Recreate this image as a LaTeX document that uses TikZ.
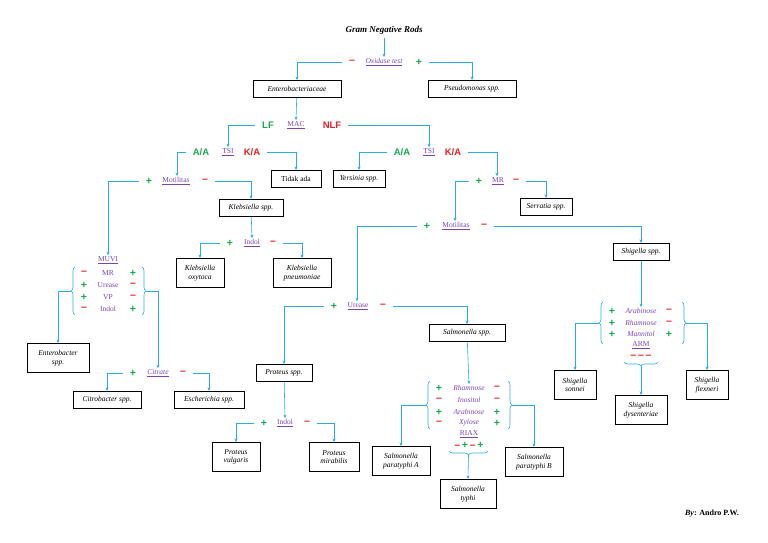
\documentclass[tikz,border=0pt]{standalone}
\usepackage{fontspec}
\setmainfont{Liberation Serif}
\setsansfont{Liberation Sans}
\usetikzlibrary{arrows.meta,decorations.pathreplacing}
\definecolor{cyanc}{RGB}{40,175,225}
\definecolor{purp}{RGB}{120,70,175}
\definecolor{grn}{RGB}{20,170,80}
\definecolor{rd}{RGB}{235,30,35}
\newcommand\fsz{\fontsize{7.5}{8.5}\selectfont}
\newcommand\ul[1]{\underline{#1}}
\begin{document}
\begin{tikzpicture}[x=1pt,y=-1pt,
 cy/.style={draw=cyanc, line width=0.6pt},
 arr/.style={cy, -{Stealth[length=3.6pt,width=3pt]}},
 br/.style={cy, decorate, decoration={brace,amplitude=4pt}},
 box/.style={draw, line width=0.9pt, fill=white, align=center, font=\fsz\itshape, inner sep=2pt, minimum height=17pt},
 box2/.style={box, minimum height=29pt},
 lab/.style={text=purp, font=\fsz, inner sep=1pt},
 ilab/.style={text=purp, font=\fsz\itshape, inner sep=1pt},
 pl/.style={text=grn, font=\fontsize{10.5}{10}\sffamily\bfseries, inner sep=1pt},
 mi/.style={text=rd, font=\fontsize{10.5}{10}\sffamily\bfseries, inner sep=1pt},
 big/.style={font=\fontsize{9.5}{10}\sffamily\bfseries, inner sep=1pt},
]
\useasboundingbox (0,0) rectangle (768,543);
% title
\node[font=\fontsize{9}{10}\selectfont\bfseries\itshape] (title) at (384,30) {Gram Negative Rods};
\node[mi] (oxm) at (352,62) {--};
\node[ilab] (ox) at (384,62) {\ul{Oxidase test}};
\node[pl] (oxp) at (419,62) {+};
\draw[arr] (title) -- (ox.north);
\node[box, minimum width=88pt] (ent) at (297,89) {Enterobacteriaceae};
\node[box, minimum width=88pt] (pse) at (472,89) {Pseudomonas spp.};
\draw[arr] ([xshift=-6pt]oxm.west) -| (ent.north);
\draw[arr] ([xshift=6pt]oxp.east) -| (pse.north);
% MAC
\node[big,text=grn] (lf) at (268,125) {LF};
\node[lab] (mac) at (296,125) {\ul{MAC}};
\node[big,text=rd] (nlf) at (332,125) {NLF};
\draw[arr] (ent) -- (mac.north);
% TSI left
\node[big,text=grn] (aa1) at (201,152) {A/A};
\node[lab] (tsi1) at (228,152) {\ul{TSI}};
\node[big,text=rd] (ka1) at (252,152) {K/A};
% TSI right
\node[big,text=grn] (aa2) at (402,152) {A/A};
\node[lab] (tsi2) at (429,152) {\ul{TSI}};
\node[big,text=rd] (ka2) at (453,152) {K/A};
\draw[arr] ([xshift=-6pt]lf.west) -| (tsi1.north);
\draw[arr] ([xshift=6pt]nlf.east) -| (tsi2.north);
\node[box, minimum width=50pt, font=\fsz] (tid) at (296,179) {Tidak ada};
\node[box, minimum width=52pt] (yer) at (359,179) {Yersinia spp.};
% Motilitas 1
\node[pl] (m1p) at (149,181) {+};
\node[lab] (mot1) at (176,181) {\ul{Motilitas}};
\node[mi] (m1m) at (205,181) {--};
\draw[arr] ([xshift=-6pt]aa1.west) -| (mot1.north -| 177,0);
\draw[arr] ([xshift=6pt]ka1.east) -| (tid.north);
% MR
\node[pl] (mrp) at (479,181) {+};
\node[lab] (mr) at (498,181) {\ul{MR}};
\node[mi] (mrm) at (516,181) {--};
\draw[arr] ([xshift=-6pt]aa2.west) -| (yer.north);
\draw[arr] ([xshift=6pt]ka2.east) -| (mr.north -| 497,0);
\node[box, minimum width=52pt] (ser) at (546,207) {Serratia spp.};
\draw[arr] ([xshift=6pt]mrm.east) -| (ser.north);
% Klebsiella
\node[box, minimum width=64pt] (kle) at (251,208) {Klebsiella spp.};
\draw[arr] ([xshift=6pt]m1m.east) -| (kle.north);
\node[pl] (k1p) at (230,243) {+};
\node[lab] (ind1) at (252,243) {\ul{Indol}};
\node[mi] (k1m) at (273,243) {--};
\draw[arr] (kle) -- (ind1.north);
\node[box2, minimum width=48pt] (kox) at (200,273) {Klebsiella\\oxytoca};
\node[box2, minimum width=58pt] (kpn) at (302,273) {Klebsiella\\pneumoniae};
\draw[arr] ([xshift=-6pt]k1p.west) -| (kox.north);
\draw[arr] ([xshift=6pt]k1m.east) -| (kpn.north);
% MUVI
\node[lab] (muvi) at (108,260) {\ul{MUVI}};
\draw[arr] ([xshift=-6pt]m1p.west) -| (muvi.north);
\node[lab] (mua) at (108,273) {MR};
\node[lab] (mub) at (108,285) {Urease};
\node[lab] (muc) at (108,297) {VP};
\node[lab] (mud) at (108,309) {Indol};
\node[mi] at (84,273) {--}; \node[pl] at (133,273) {+};
\node[pl] at (84,285) {+}; \node[mi] at (133,285) {--};
\node[pl] at (84,297) {+}; \node[mi] at (133,297) {--};
\node[mi] at (84,309) {--}; \node[pl] at (133,309) {+};
\draw[br] (75,315) -- (75,267);
\draw[br] (142,267) -- (142,315);
\coordinate (mubl) at (71,291);
\coordinate (mubr) at (146,291);
\node[box2, minimum width=62pt] (entb) at (58,358) {Enterobacter\\spp.};
\draw[arr] (mubl) -| (entb.north);
% Citrate
\node[pl] (cp) at (133,373) {+};
\node[ilab] (cit) at (158,373) {\ul{Citrate}};
\node[mi] (cm) at (183,373) {--};
\draw[arr] (mubr) -| (cit.north);
\node[box, minimum width=68pt] (cib) at (107,400) {Citrobacter spp.};
\node[box, minimum width=70pt] (esc) at (209,400) {Escherichia spp.};
\draw[arr] ([xshift=-6pt]cp.west) -| (cib.north);
\draw[arr] ([xshift=6pt]cm.east) -| (esc.north);
% Motilitas 2
\node[pl] (m2p) at (427,226) {+};
\node[lab] (mot2) at (456,226) {\ul{Motilitas}};
\node[mi] (m2m) at (484,226) {--};
\draw[arr] ([xshift=-6pt]mrp.west) -| (mot2.north -| 455,0);
\node[box, minimum width=56pt] (shi) at (641,252) {Shigella spp.};
\draw[arr] ([xshift=6pt]m2m.east) -| (shi.north);
% Urease
\node[pl] (up) at (334,306) {+};
\node[lab] (ure) at (358,306) {\ul{Urease}};
\node[mi] (um) at (383,306) {--};
\draw[arr] ([xshift=-6pt]m2p.west) -| (ure.north -| 357,0);
\node[box, minimum width=56pt] (pro) at (284,373) {Proteus spp.};
\node[box, minimum width=76pt] (sal) at (467,333) {Salmonella spp.};
\draw[arr] ([xshift=-6pt]up.west) -| (pro.north);
\draw[arr] ([xshift=6pt]um.east) -| (sal.north);
% Indol 2
\node[pl] (p2p) at (264,423) {+};
\node[lab] (ind2) at (285,423) {\ul{Indol}};
\node[mi] (p2m) at (307,423) {--};
\draw[arr] (pro) -- (ind2.north);
\node[box2, minimum width=48pt] (pvu) at (236,457) {Proteus\\vulgaris};
\node[box2, minimum width=50pt] (pmi) at (334,457) {Proteus\\mirabilis};
\draw[arr] ([xshift=-6pt]p2p.west) -| (pvu.north);
\draw[arr] ([xshift=6pt]p2m.east) -| (pmi.north);
% RIAX
\node[ilab] (rha) at (469,388) {Rhamnose};
\node[ilab] (ino) at (469,400) {Inositol};
\node[ilab] (ara) at (469,412) {Arabinose};
\node[ilab] (xyl) at (469,423) {Xylose};
\node[lab] (riax) at (469,434) {\ul{RIAX}};
\node[pl] at (439,388) {+}; \node[mi] at (497,388) {--};
\node[mi] at (439,400) {--}; \node[mi] at (497,400) {--};
\node[pl] at (439,412) {+}; \node[pl] at (497,412) {+};
\node[mi] at (439,423) {--}; \node[pl] at (497,423) {+};
\node[font=\fontsize{10.5}{10}\sffamily\bfseries, inner sep=1pt] (rsg) at (469,445) {\textcolor{rd}{\textendash}\,\textcolor{grn}{+}\,\textcolor{rd}{\textendash}\,\textcolor{grn}{+}};
\draw[arr] (sal) -- (rha.north);
\draw[br] (430,429) -- (430,381);
\draw[br] (508,381) -- (508,429);
\draw[br] (488,451) -- (449,451);
\coordinate (rbl) at (426,405);
\coordinate (rbr) at (512,405);
\coordinate (rbb) at (468.5,455);
\node[box2, minimum width=58pt] (spa) at (401,461) {Salmonella\\paratyphi A};
\node[box2, minimum width=58pt] (spb) at (534,462) {Salmonella\\paratyphi B};
\node[box2, minimum width=56pt] (sty) at (468,494) {Salmonella\\typhi};
\draw[arr] (rbl) -| (spa.north);
\draw[arr] (rbr) -| (spb.north);
\draw[arr] (rbb) -- (sty.north);
% ARM
\node[ilab] (sara) at (641,311) {Arabinose};
\node[ilab] (srha) at (641,323) {Rhamnose};
\node[ilab] (sman) at (641,334) {Mannitol};
\node[lab] (arm) at (641,345) {\ul{ARM}};
\node[pl] at (612,311) {+}; \node[mi] at (669,311) {--};
\node[pl] at (612,323) {+}; \node[mi] at (669,323) {--};
\node[pl] at (612,334) {+}; \node[pl] at (669,334) {+};
\node[mi] (asg) at (641,357) {\textendash\,\textendash\,\textendash};
\draw[arr] (shi) -- (sara.north);
\draw[br] (603,344) -- (603,302);
\draw[br] (682,302) -- (682,344);
\draw[br] (658,362) -- (624,362);
\coordinate (abl) at (599,323);
\coordinate (abr) at (686,323);
\coordinate (abb) at (641,366);
\node[box2, minimum width=42pt] (sso) at (575,385) {Shigella\\sonnei};
\node[box2, minimum width=42pt] (sfl) at (707,385) {Shigella\\flexneri};
\node[box2, minimum width=52pt] (sdy) at (641,410) {Shigella\\dysenteriae};
\draw[arr] (abl) -| (sso.north);
\draw[arr] (abr) -| (sfl.north);
\draw[arr] (abb) -- (sdy.north);
% signature
\node[font=\fontsize{8}{9}\selectfont\bfseries] (by) at (712,514) {\textit{By}: Andro P.W.};
\end{tikzpicture}
\end{document}
